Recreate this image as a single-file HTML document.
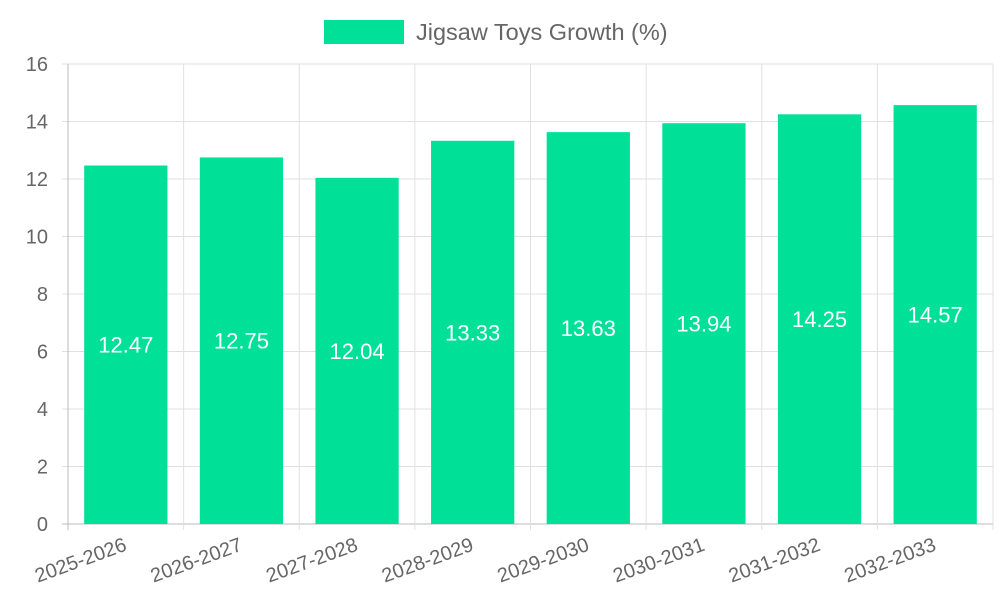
<!DOCTYPE html>
<html><head><meta charset="utf-8">
<style>
html,body{margin:0;padding:0;background:#fff;}
svg{display:block;font-family:"Liberation Sans",sans-serif;}
</style></head>
<body>
<svg id="chart" width="1000" height="600" viewBox="0 0 1000 600">
  <g id="legend">
    <rect x="324" y="20" width="80" height="24" fill="#00e096"></rect>
    <text x="416" y="40" font-size="23.5" fill="#666">Jigsaw Toys Growth (%)</text>
  </g>
  <g id="grid"></g>
  <g id="bars"></g>
  <g id="axes"></g>
</svg>
<script>
const categories = ["2025-2026","2026-2027","2027-2028","2028-2029","2029-2030","2030-2031","2031-2032","2032-2033"];
const values = [12.47,12.75,12.04,13.33,13.63,13.94,14.25,14.57];
const yTicks = [0,2,4,6,8,10,12,14,16];

const NS = "http://www.w3.org/2000/svg";
const plotLeft = 68, plotRight = 993, plotTop = 64, plotBottom = 524;
const yMax = 16;
const band = (plotRight - plotLeft) / categories.length;
const yScale = v => plotBottom - (v / yMax) * (plotBottom - plotTop);
const xCenter = i => plotLeft + band * (i + 0.5);
function mk(tag, attrs, parent) {
  const e = document.createElementNS(NS, tag);
  for (const k in attrs) e.setAttribute(k, attrs[k]);
  parent.appendChild(e);
  return e;
}
const gridG = document.getElementById('grid');
const barsG = document.getElementById('bars');
const axesG = document.getElementById('axes');

yTicks.forEach(t => {
  const g = mk('line', {x1: plotLeft - 6, x2: plotRight, y1: yScale(t), y2: yScale(t), stroke: t === 0 ? '#bbb' : '#e0e0e0', 'stroke-width': 1}, gridG);
  
  
  const lb = mk('text', {x: 48, y: yScale(t) + 7, 'text-anchor': 'end', 'font-size': 20, fill: '#666'}, axesG);
  lb.textContent = t;
  
  
});
for (let i = 0; i <= categories.length; i++) {
  const x = plotLeft + band * i;
  const g = mk('line', {x1: x, x2: x, y1: plotTop, y2: plotBottom + 6, stroke: i === 0 ? '#bbb' : '#e0e0e0', 'stroke-width': 1}, gridG);
  
  
}
const bw = band * 0.72;
categories.forEach((c, i) => {
  const v = values[i];
  const r = mk('rect', {x: xCenter(i) - bw / 2, y: yScale(v), width: bw, height: plotBottom - yScale(v), fill: '#00e096'}, barsG);
  
  
  const t = mk('text', {x: xCenter(i), y: (yScale(v) + plotBottom) / 2 + 8, 'text-anchor': 'middle', 'font-size': 22, fill: '#fff'}, barsG);
  t.textContent = v.toFixed(2);
  
  
  const xl = mk('text', {x: 0, y: 0, 'text-anchor': 'end', 'font-size': 20, fill: '#666', transform: 'translate(' + (xCenter(i) + 2) + ',' + (plotBottom + 26) + ') rotate(-20)'}, axesG);
  xl.textContent = c;
  
  
});
</script>
</body></html>
